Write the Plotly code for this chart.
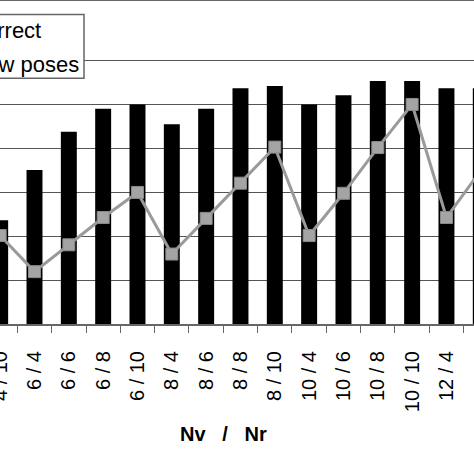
import plotly.graph_objects as go

# ---- data ----
categories = ["4 / 10", "6 / 4", "6 / 6", "6 / 8", "6 / 10", "8 / 4", "8 / 6", "8 / 8",
              "8 / 10", "10 / 4", "10 / 6", "10 / 8", "10 / 10", "12 / 4", "12 / 6"]
correct = [43.6, 55.0, 63.7, 68.9, 69.9, 65.4, 68.9, 73.6, 74.1, 69.9, 72.0, 75.2, 75.2, 73.6, 73.6]
new_poses = [40.1, 31.9, 38.0, 44.2, 49.9, 35.9, 44.0, 52.0, 60.2, 40.1, 49.7, 60.1, 69.9, 44.2, 54.9]
grid_values = [30, 40, 50, 60, 70, 80]
series_names = ["correct", "new poses"]
x_title = "Nv\u00a0\u00a0\u00a0/\u00a0\u00a0\u00a0Nr"

# ---- layout geometry ----
W, H = 474, 474
PLOT_TOP, PLOT_H = 1, 323
px_per_cat = 34.33
x0 = -0.005
x_range = [x0, x0 + W / px_per_cat]
y_range = [20, 20 + PLOT_H / 4.4]
boundaries = [i - 0.5 for i in range(len(categories) + 1)]
FONT = "Liberation Sans, Arial, sans-serif"
AXC = "#666666"


def py(pixel_y):
    """pixel row -> paper y"""
    return (PLOT_TOP + PLOT_H - pixel_y) / PLOT_H


fig = go.Figure()
fig.add_trace(go.Bar(
    x=categories, y=correct, name=series_names[0],
    marker=dict(color="black", line=dict(width=0)),
    legendgroup="a",
))
fig.add_trace(go.Scatter(
    x=categories, y=new_poses, name=series_names[1], mode="lines+markers",
    line=dict(color="#9a9a9a", width=3),
    marker=dict(symbol="square", size=12, color="#a4a4a4", line=dict(color="#8a8a8a", width=1)),
    legendgroup="b",
))

fig.update_layout(
    width=W, height=H,
    margin=dict(l=0, r=0, t=PLOT_TOP, b=H - PLOT_TOP - PLOT_H, autoexpand=False),
    paper_bgcolor="white", plot_bgcolor="white",
    bargap=0.535,
    font=dict(family=FONT, color="black"),
    showlegend=True,
    legend=dict(
        x=-66 / W, xanchor="left", y=py(8.9), yanchor="top",
        bgcolor="rgba(0,0,0,0)", borderwidth=0,
        font=dict(size=22, family=FONT, color="black"),
        traceorder="grouped", tracegroupgap=2,
    ),
    # frame of the legend box
    shapes=[dict(
        type="rect", xref="paper", yref="paper",
        x0=-0.3, x1=84 / W, y0=py(78.3), y1=py(14.5),
        line=dict(color="#666666", width=1.5), fillcolor="white", layer="above",
    )],
    xaxis=dict(
        type="category", range=x_range, tickson="boundaries",
        ticks="outside", ticklen=7, tickcolor=AXC, tickwidth=1,
        showline=True, linecolor=AXC, linewidth=2, mirror=True,
        tickangle=-90, tickfont=dict(size=20, family=FONT, color="black"),
        ticklabelstandoff=17, showgrid=False,
    ),
    xaxis2=dict(
        overlaying="x", anchor="y", side="bottom", range=x_range,
        tickmode="array", tickvals=boundaries, ticks="inside", ticklen=7,
        tickcolor=AXC, tickwidth=1, showticklabels=False, showgrid=False,
        showline=False, zeroline=False,
    ),
    yaxis=dict(
        range=y_range, tickmode="array", tickvals=grid_values,
        showticklabels=False, showgrid=True, gridcolor="#555555", gridwidth=1,
        zeroline=False, showline=False, ticks="",
    ),
    annotations=[dict(
        text=x_title, xref="paper", yref="paper",
        x=223.3 / W, y=py(433.7), xanchor="center", yanchor="middle",
        showarrow=False, font=dict(size=20, family=FONT, color="black", weight="bold"),
    )],
)

fig.write_html(
    "out.html",
    config={"displayModeBar": False},
    post_script="document.body.style.margin='0';document.body.style.padding='0';document.body.style.overflow='hidden';",
)
